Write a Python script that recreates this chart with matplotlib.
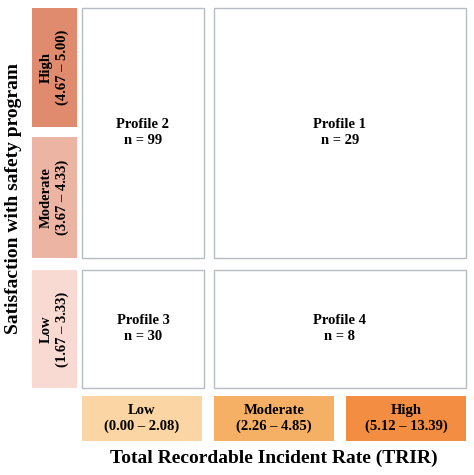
import matplotlib
matplotlib.use("Agg")
import matplotlib.pyplot as plt
from matplotlib.patches import Rectangle

profiles = ["Profile 2", "Profile 1", "Profile 3", "Profile 4"]
counts = [99, 29, 30, 8]
sat_labels = ["High\n(4.67 – 5.00)", "Moderate\n(3.67 – 4.33)", "Low\n(1.67 – 3.33)"]
sat_colors = ["#e08a6e", "#ecb4a2", "#f9dad3"]
trir_labels = ["Low\n(0.00 – 2.08)", "Moderate\n(2.26 – 4.85)", "High\n(5.12 – 13.39)"]
trir_colors = ["#fbd6a4", "#f6b066", "#f28d41"]
xlabel = "Total Recordable Incident Rate (TRIR)"
ylabel = "Satisfaction with safety program"

plt.rcParams['font.family'] = ['Liberation Serif', 'DejaVu Serif']
fig = plt.figure(figsize=(4.74, 4.75), dpi=100)
ax = fig.add_axes([0, 0, 1, 1])
ax.set_xlim(0, 474); ax.set_ylim(475, 0); ax.axis('off')

# profile boxes (x0, y0, x1, y1)
pboxes = [(82, 8, 204, 258), (214, 8, 466, 258), (82, 270, 204, 388), (214, 270, 466, 388)]
for (x0, y0, x1, y1), p, n in zip(pboxes, profiles, counts):
    ax.add_patch(Rectangle((x0, y0), x1 - x0, y1 - y0, fc='white', ec='#b8bcc4', lw=1))
    ax.text((x0 + x1) / 2, (y0 + y1) / 2, f"{p}\nn = {n}", ha='center', va='center',
            fontsize=10.5, fontweight='bold', linespacing=1.3)

sboxes = [(32, 8, 77, 127), (32, 137, 77, 258), (32, 270, 77, 388)]
for (x0, y0, x1, y1), lab, c in zip(sboxes, sat_labels, sat_colors):
    ax.add_patch(Rectangle((x0, y0), x1 - x0, y1 - y0, fc=c, ec='none'))
    ax.text((x0 + x1) / 2, (y0 + y1) / 2, lab, ha='center', va='center', rotation=90,
            fontsize=10.5, fontweight='bold', linespacing=1.3)

tboxes = [(82, 396, 202, 441), (214, 396, 334, 441), (346, 396, 466, 441)]
for (x0, y0, x1, y1), lab, c in zip(tboxes, trir_labels, trir_colors):
    ax.add_patch(Rectangle((x0, y0), x1 - x0, y1 - y0, fc=c, ec='none'))
    ax.text((x0 + x1) / 2, (y0 + y1) / 2, lab, ha='center', va='center',
            fontsize=10.5, fontweight='bold', linespacing=1.3)

ax.text(274, 458, xlabel, ha='center', va='center', fontsize=14, fontweight='bold')
ax.text(14, 198, ylabel, ha='center', va='center', rotation=90, fontsize=14, fontweight='bold')

fig.savefig("out.png", dpi=100)
